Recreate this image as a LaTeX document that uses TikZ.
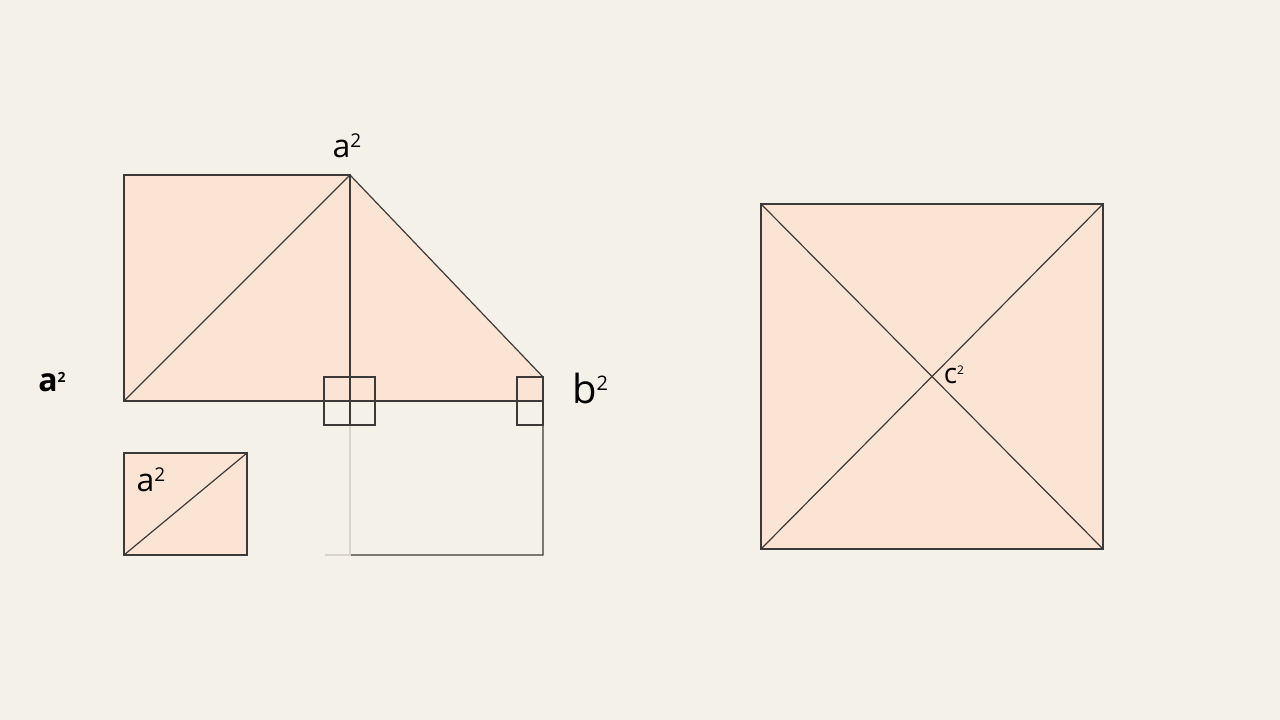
\documentclass[tikz,border=0pt]{standalone}
\usepackage{fontspec}
\setmainfont{Open Sans}
\usepackage{xcolor}
\usetikzlibrary{arrows,positioning,calc}
\definecolor{paper}{HTML}{F4F1E8}
\definecolor{peach}{HTML}{FCE4D4}
\definecolor{ink}{HTML}{3C3A38}
\definecolor{faint}{HTML}{D8D4CC}
\tikzset{>=stealth}
\tikzset{edge/.style={ink,line width=1.2pt},
	lbl/.style={inner sep=0pt,text=black}}

\begin{document}
\begin{tikzpicture}[x=1pt,y=-1pt]
	\fill[paper] (0,0) rectangle (1280,720);
	\useasboundingbox (0,0) rectangle (1280,720);
	%Points
	\coordinate (A) at (124,175);
	\coordinate (B) at (350,175);
	\coordinate (C) at (124,401);
	\coordinate (D) at (350,401);
	\coordinate (E) at (543,377);
	\coordinate (F) at (543,401);
	\coordinate (G) at (350,555);
	\coordinate (H) at (543,555);
	%Fills
	\fill[peach] (A) rectangle (D);
	\fill[peach] (B)--(E)--(F)--(D)--cycle;
	\fill[peach] (124,453) rectangle (247,555);
	\fill[peach] (761,204) rectangle (1103,549);
	%Big square with diagonal
	\draw[edge] (A) rectangle (D);
	\draw[edge] (C)--(B);
	\draw[edge] (B)--(E)--(H)--(G);
	\draw[edge] (D)--(F);
	\draw[edge] (B)--(350,425);
	\draw[faint,line width=1.2pt] (350,425)--(G)--(325,555);
	%Small squares
	\draw[edge] (324,377) rectangle (375,425);
	\draw[edge] (517,377) rectangle (543,425);
	%Small box
	\draw[edge] (124,453) rectangle (247,555);
	\draw[edge] (124,555)--(247,453);
	%Right square
	\draw[edge] (761,204) rectangle (1103,549);
	\draw[edge] (761,204)--(1103,549);
	\draw[edge] (761,549)--(1103,204);
	%Labels
	\node[lbl] (La) at (347,146) {\fontsize{32}{32}\selectfont a\raisebox{0.6ex}{\fontsize{19}{19}\selectfont 2}};
	\node[lbl] (Lb) at (52,382) {\fontsize{32}{32}\selectfont\bfseries a\raisebox{0.5ex}{\fontsize{14}{14}\selectfont 2}};
	\node[lbl] (Lc) at (590,388) {\fontsize{40}{40}\selectfont b\raisebox{0.6ex}{\fontsize{20}{20}\selectfont 2}};
	\node[lbl] (Ld) at (151,480) {\fontsize{32}{32}\selectfont a\raisebox{0.6ex}{\fontsize{19}{19}\selectfont 2}};
	\node[lbl] (Le) at (954,375) {\fontsize{28}{28}\selectfont c\raisebox{0.6ex}{\fontsize{12}{12}\selectfont 2}};
\end{tikzpicture}
\end{document}
